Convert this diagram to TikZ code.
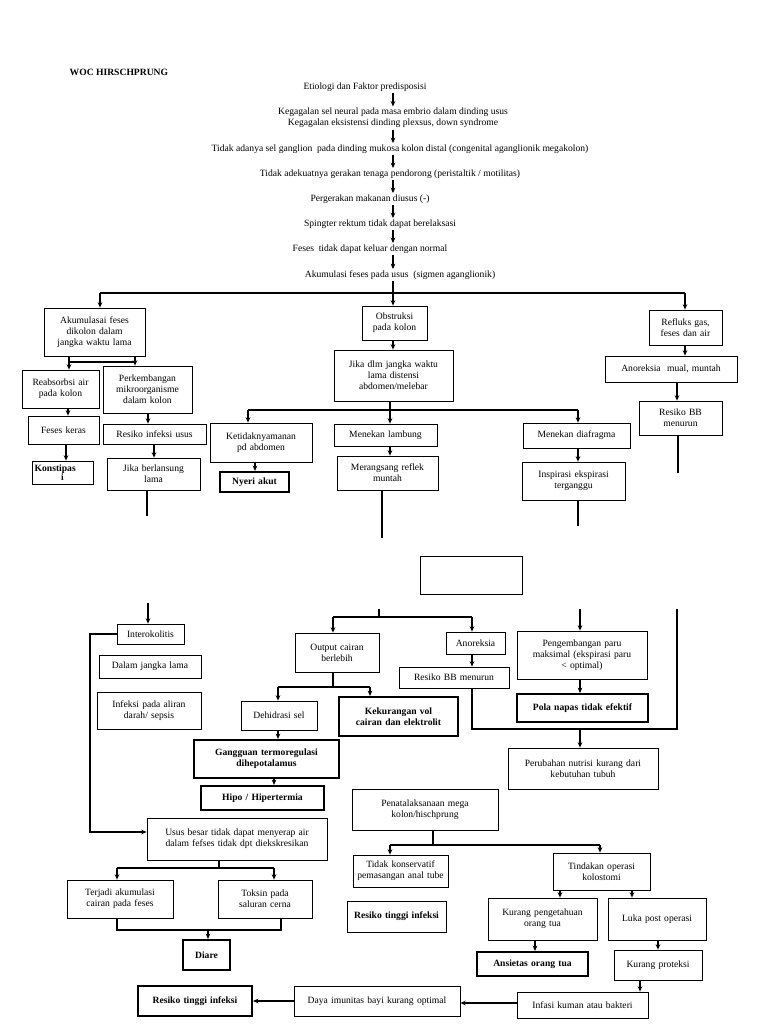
\documentclass[tikz,border=0pt]{standalone}
\usepackage{fontspec}
\setmainfont{Liberation Serif}
\usetikzlibrary{arrows.meta}
\newcommand\bx[7][]{\node[box,#1,minimum width={(#5-#3)*0.75pt},minimum height={(#6-#4)*0.75pt},text width={(#5-#3)*0.75pt-4pt}] (#2) at ({(#3+#5)/2},{(#4+#6)/2}) {#7};}
\begin{document}
\begin{tikzpicture}[x=0.75pt,y=-0.75pt,font=\fontsize{7.2}{8.4}\selectfont,
 box/.style={draw,line width=0.6pt,inner sep=1pt,align=center},
 bb/.style={line width=1.6pt,font=\fontsize{7.2}{8.4}\selectfont\bfseries},
 bt/.style={font=\fontsize{7.2}{8.4}\selectfont\bfseries},
 tx/.style={inner sep=1pt,align=center},
 ln/.style={line width=1.3pt},
 arr/.style={ln,-{Stealth[length=4pt,width=3.5pt]}}]
\useasboundingbox (0,0) rectangle (768,1024);
\node[anchor=west,font=\fontsize{7.2}{8.4}\selectfont\bfseries] (woc) at (65,72) {WOC HIRSCHPRUNG};
\node[tx] (t1) at (365,87) {Etiologi dan Faktor predisposisi};
\node[tx] (t2) at (393,118) {Kegagalan sel neural pada masa embrio dalam dinding usus\\Kegagalan eksistensi dinding plexsus, down syndrome};
\node[tx] (t3) at (400,149) {Tidak adanya sel ganglion\ \ pada dinding mukosa kolon distal (congenital aganglionik megakolon)};
\node[tx] (t4) at (390,174) {Tidak adekuatnya gerakan tenaga pendorong (peristaltik / motilitas)};
\node[tx] (t5) at (370,199) {Pergerakan makanan diusus (-)};
\node[tx] (t6) at (380,224) {Spingter rektum tidak dapat berelaksasi};
\node[tx] (t7) at (370,249) {Feses\ \ tidak dapat keluar dengan normal};
\node[tx] (t8) at (400,275) {Akumulasi feses pada usus\ \ (sigmen aganglionik)};
\foreach \a/\b in {t1/t2,t2/t3,t3/t4,t4/t5,t5/t6,t6/t7,t7/t8}
  \draw[arr] (393,0 |- \a.south) -- (393,0 |- \b.north);
% level 1
\bx{a1}{44}{308}{145}{356}{Akumulasai feses\\dikolon dalam\\jangka waktu lama}
\bx{ob}{362}{306}{427}{340}{Obstruksi\\pada kolon}
\bx{rf}{649}{310}{722}{345}{Refluks gas,\\feses dan air}
\draw[ln] (393,0 |- t8.south) -- (393,293);
\draw[ln] (100,293) -- (685,293);
\draw[arr] (100,293) -- (100,0 |- a1.north);
\draw[arr] (393,293) -- (393,0 |- ob.north);
\draw[arr] (685,293) -- (685,0 |- rf.north);
% left branch
\bx{r1}{22}{370}{99}{408}{Reabsorbsi air\\pada kolon}
\bx{p1}{103}{366}{192}{413}{Perkembangan\\mikroorganisme\\dalam kolon}
\draw[ln] (69,0 |- a1.south) -- (69,362) -- (135,362);
\draw[arr] (69,362) -- (69,0 |- r1.north);
\draw[arr] (135,0 |- a1.south) -- (135,0 |- p1.north);
\bx{fk}{28}{416}{99}{444}{Feses keras}
\bx[bt]{ks}{32}{461}{93}{484}{\raggedright Konstipas\\[-2pt]i}
\draw[arr] (68,0 |- r1.south) -- (68,0 |- fk.north);
\draw[arr] (66,0 |- fk.south) -- (66,0 |- ks.north);
\bx{ri}{103}{424}{206}{444}{Resiko infeksi usus}
\bx{jb}{107}{458}{200}{490}{Jika berlansung\\lama}
\draw[arr] (148,0 |- p1.south) -- (148,0 |- ri.north);
\draw[arr] (154,0 |- ri.south) -- (154,0 |- jb.north);
\coordinate (jbe) at (147,516);
\draw[ln] (147,0 |- jb.south) -- (jbe);
% middle branch
\bx{jd}{334}{350}{453}{401}{Jika dlm jangka waktu\\lama distensi\\abdomen/melebar}
\draw[arr] (ob.south -| 393,0) -- (393,0 |- jd.north);
\bx{kt}{210}{423}{312}{462}{Ketidaknyamanan\\pd abdomen}
\bx{ml}{334}{424}{437}{446}{Menekan lambung}
\bx{md}{523}{423}{630}{448}{Menekan diafragma}
\draw[ln] (390,0 |- jd.south) -- (390,410);
\draw[ln] (248,410) -- (578,410);
\draw[arr] (248,410) -- (248,0 |- kt.north);
\draw[arr] (390,410) -- (390,0 |- ml.north);
\draw[arr] (578,410) -- (578,0 |- md.north);
\bx[bb]{na}{220}{472}{289}{492}{Nyeri akut}
\draw[arr] (255,0 |- kt.south) -- (255,0 |- na.north);
\bx{mr}{337}{456}{438}{490}{Merangsang reflek\\muntah}
\draw[arr] (390,0 |- ml.south) -- (390,0 |- mr.north);
\coordinate (mre) at (382,538);
\draw[line width=2pt] (382,0 |- mr.south) -- (mre);
\bx{ie}{522}{462}{625}{500}{Inspirasi ekspirasi\\terganggu}
\draw[arr] (578,0 |- md.south) -- (578,0 |- ie.north);
\coordinate (iee) at (578,526);
\draw[ln] (578,0 |- ie.south) -- (iee);
% right branch
\bx{an}{605}{356}{737}{382}{Anoreksia\ \ mual, muntah}
\bx{rb}{639}{401}{722}{435}{Resiko BB\\menurun}
\draw[arr] (685,0 |- rf.south) -- (685,0 |- an.north);
\draw[arr] (677,0 |- an.south) -- (677,0 |- rb.north);
\coordinate (rbe) at (678,473);
\draw[ln] (678,0 |- rb.south) -- (rbe);
% empty box
\bx{em}{420}{556}{522}{594}{}
% lower left
\coordinate (ins) at (148,603);
\bx{io}{117}{624}{184}{644}{Interokolitis}
\draw[arr] (ins) -- (148,0 |- io.north);
\bx{dj}{99}{655}{201}{678}{Dalam jangka lama}
\bx{ip}{97}{692}{201}{729}{Infeksi pada aliran\\darah/ sepsis}
\bx{us}{147}{818}{327}{860}{Usus besar tidak dapat menyerap air\\dalam fefses tidak dpt diekskresikan}
\draw[arr] (io.west) -| (90,832) -- (us.west |- 90,832);
% lower middle
\coordinate (os) at (379,609);
\bx{oc}{295}{633}{379}{672}{Output cairan\\berlebih}
\bx{ax}{446}{632}{505}{654}{Anoreksia}
\draw[ln] (os) -- (379,617);
\draw[ln] (333,617) -- (472,617);
\draw[arr] (333,617) -- (333,0 |- oc.north);
\draw[arr] (472,617) -- (472,0 |- ax.north);
\bx{rb2}{399}{667}{509}{688}{Resiko BB menurun}
\draw[arr] (472,0 |- ax.south) -- (472,0 |- rb2.north);
\bx{dh}{241}{701}{317}{730}{Dehidrasi sel}
\bx[bb]{kv}{339}{697}{458}{736}{Kekurangan vol\\cairan dan elektrolit}
\draw[ln] (333,0 |- oc.south) -- (333,687);
\draw[ln] (278,687) -- (370,687);
\draw[arr] (278,687) -- (278,0 |- dh.north);
\draw[arr] (370,687) -- (370,0 |- kv.north);
\bx[bb]{gt}{194}{740}{339}{778}{Gangguan termoregulasi\\dihepotalamus}
\bx[bb]{hh}{201}{786}{324}{810}{Hipo / Hipertermia}
\draw[arr] (278,0 |- dh.south) -- (278,0 |- gt.north);
\draw[arr] (274,0 |- gt.south) -- (274,0 |- hh.north);
% lower right
\coordinate (pas) at (580,609);
\coordinate (rbs) at (677,609);
\bx{pp}{517}{631}{647}{679}{Pengembangan paru\\maksimal (ekspirasi paru\\< optimal)}
\bx[bb]{pn}{517}{694}{648}{722}{Pola napas tidak efektif}
\draw[arr] (pas) -- (580,0 |- pp.north);
\draw[arr] (580,0 |- pp.south) -- (580,0 |- pn.north);
\bx{pb}{508}{748}{658}{789}{Perubahan nutrisi kurang dari\\kebutuhan tubuh}
\draw[ln] (472,0 |- rb2.south) -- (472,729) -- (677,729) -- (rbs);
\draw[arr] (580,729) -- (580,0 |- pb.north);
% management
\bx{pm}{352}{789}{498}{830}{Penatalaksanaan mega\\kolon/hischprung}
\bx{tk}{353}{855}{448}{887}{Tidak konservatif\\pemasangan anal tube}
\bx{to}{553}{853}{650}{890}{Tindakan operasi\\kolostomi}
\draw[ln] (433,0 |- pm.south) -- (433,845);
\draw[ln] (390,845) -- (600,845);
\draw[arr] (390,845) -- (390,0 |- tk.north);
\draw[arr] (600,845) -- (600,0 |- to.north);
\bx[bt]{rt1}{347}{901}{446}{932}{Resiko tinggi infeksi}
\bx{kp}{488}{898}{597}{940}{Kurang pengetahuan\\orang tua}
\bx{lp}{608}{898}{706}{940}{Luka post operasi}
\draw[arr] (560,0 |- to.south) -- (560,0 |- kp.north);
\draw[arr] (632,0 |- to.south) -- (632,0 |- lp.north);
\bx[bb]{ao}{477}{952}{588}{976}{Ansietas orang tua}
\bx{kpr}{614}{950}{702}{980}{Kurang proteksi}
\draw[arr] (535,0 |- kp.south) -- (535,0 |- ao.north);
\draw[arr] (658,0 |- lp.south) -- (658,0 |- kpr.north);
\bx{ik}{517}{992}{648}{1018}{Infasi kuman atau bakteri}
\draw[arr] (640,0 |- kpr.south) -- (640,0 |- ik.north);
\bx{di}{294}{986}{460}{1016}{Daya imunitas bayi kurang optimal}
\bx[bb]{rt2}{138}{986}{252}{1016}{Resiko tinggi infeksi}
\draw[arr] (ik.west |- 0,1003) -- (di.east |- 0,1003);
\draw[arr] (di.west |- 0,1001) -- (rt2.east |- 0,1001);
% diare branch
\bx{ta}{67}{880}{173}{918}{Terjadi akumulasi\\cairan pada feses}
\bx{ts}{218}{880}{312}{918}{Toksin pada\\saluran cerna}
\draw[ln] (219,0 |- us.south) -- (219,868);
\draw[ln] (117,868) -- (274,868);
\draw[arr] (117,868) -- (117,0 |- ta.north);
\draw[arr] (274,868) -- (274,0 |- ts.north);
\bx[bb]{dr}{183}{940}{230}{970}{Diare}
\draw[ln] (117,0 |- ta.south) -- (117,930) -- (281,930) -- (281,0 |- ts.south);
\draw[arr] (208,930) -- (208,0 |- dr.north);
\end{tikzpicture}
\end{document}
